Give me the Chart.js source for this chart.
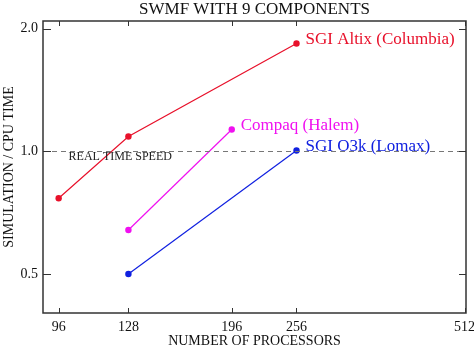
<!DOCTYPE html>
<html><head><meta charset="utf-8">
<script src="https://cdn.jsdelivr.net/npm/chart.js@4"></script>
<style>html,body{margin:0;padding:0;background:#fff}#wrap{width:474px;height:353px}</style>
</head><body><div id="wrap"><canvas id="c" width="474" height="353"></canvas></div>
<script>
const xTicks = [96, 128, 196, 256, 512];
const yTicks = [0.5, 1.0, 2.0];
const altixProcs = [96, 128, 256];
const altixValues = [0.767, 1.088, 1.84];
const compaqProcs = [128, 196];
const compaqValues = [0.641, 1.132];
const o3kProcs = [128, 256];
const o3kValues = [0.5, 1.005];
const realTime = 1.0;
const seriesNames = ['SGI Altix (Columbia)', 'Compaq (Halem)', 'SGI O3k (Lomax)'];
const seriesColors = ['#e8102a', '#f010f0', '#1020e0'];

const SERIF = '"Liberation Serif", "DejaVu Serif", serif';
const pts = (xs, ys) => xs.map((x, i) => ({x, y: ys[i]}));

const framePlugin = {
  id: 'frame',
  afterDraw(chart) {
    const {ctx, chartArea: a, scales: {x, y}} = chart;
    ctx.save();
    // dashed real-time line
    const yr = Math.round(y.getPixelForValue(realTime));
    ctx.strokeStyle = '#777'; ctx.lineWidth = 1; ctx.setLineDash([5, 4]);
    ctx.beginPath(); ctx.moveTo(a.left, yr + 0.5); ctx.lineTo(a.right, yr + 0.5); ctx.stroke();
    ctx.setLineDash([]);
    ctx.fillStyle = '#222'; ctx.font = '12px ' + SERIF; ctx.textBaseline = 'middle'; ctx.textAlign = 'left';
    ctx.fillText('REAL TIME SPEED', x.getPixelForValue(100), yr + 6);
    // frame
    ctx.strokeStyle = '#333'; ctx.lineWidth = 1.5;
    ctx.strokeRect(a.left, a.top, a.right - a.left, a.bottom - a.top);
    ctx.lineWidth = 1;
    xTicks.forEach(v => {
      const px = Math.round(x.getPixelForValue(v)) + 0.5;
      ctx.beginPath(); ctx.moveTo(px, a.bottom); ctx.lineTo(px, a.bottom - 5); ctx.stroke();
      ctx.beginPath(); ctx.moveTo(px, a.top); ctx.lineTo(px, a.top + 5); ctx.stroke();
    });
    yTicks.forEach(v => {
      const py = Math.round(y.getPixelForValue(v)) + 0.5;
      ctx.beginPath(); ctx.moveTo(a.left, py); ctx.lineTo(a.left + 8, py); ctx.stroke();
      ctx.beginPath(); ctx.moveTo(a.right, py); ctx.lineTo(a.right - 7, py); ctx.stroke();
    });
    // series labels
    ctx.font = '17px ' + SERIF; ctx.textAlign = 'left'; ctx.textBaseline = 'middle';
    const lab = [[altixProcs, altixValues], [compaqProcs, compaqValues], [o3kProcs, o3kValues]];
    lab.forEach(([xs, ys], i) => {
      const n = xs.length - 1;
      ctx.fillStyle = seriesColors[i];
      ctx.fillText(seriesNames[i], x.getPixelForValue(xs[n]) + 9, y.getPixelForValue(ys[n]) - 4);
    });
    // title
    ctx.fillStyle = '#111'; ctx.font = '17px ' + SERIF; ctx.textAlign = 'center';
    ctx.fillText('SWMF WITH 9 COMPONENTS', (a.left + a.right) / 2, 10);
    ctx.restore();
  }
};

const mk = (label, data, color) => ({
  label, data, borderColor: color, backgroundColor: color,
  borderWidth: 1.2, pointRadius: 3.2, pointHoverRadius: 3.2, pointBorderWidth: 0
});

new Chart(document.getElementById('c'), {
  type: 'line',
  data: {
    datasets: [
      mk(seriesNames[0], pts(altixProcs, altixValues), seriesColors[0]),
      mk(seriesNames[1], pts(compaqProcs, compaqValues), seriesColors[1]),
      mk(seriesNames[2], pts(o3kProcs, o3kValues), seriesColors[2])
    ]
  },
  options: {
    responsive: false, animation: false, devicePixelRatio: 1,
    layout: {padding: {top: 21, right: 8, left: 0, bottom: 0}},
    plugins: {legend: {display: false}, tooltip: {enabled: false}, title: {display: false}},
    scales: {
      x: {
        type: 'logarithmic', min: 90, max: 515,
        afterBuildTicks: s => { s.ticks = xTicks.map(v => ({value: v})); },
        afterFit: s => { s.height = 40; s.paddingLeft = 0; s.paddingRight = 0; },
        grid: {display: false, drawTicks: false},
        border: {display: false},
        ticks: {padding: 6, color: '#111', font: {family: SERIF, size: 14}, maxRotation: 0, autoSkip: false,
          callback: v => String(v)},
        title: {display: true, text: 'NUMBER OF PROCESSORS', color: '#111', font: {family: SERIF, size: 14}, padding: {top: 0, bottom: 3}}
      },
      y: {
        type: 'logarithmic', min: 0.401, max: 2.09,
        afterBuildTicks: s => { s.ticks = yTicks.map(v => ({value: v})); },
        afterFit: s => { s.width = 43; s.paddingTop = 0; s.paddingBottom = 0; },
        grid: {display: false, drawTicks: false},
        border: {display: false},
        ticks: {padding: 5, color: '#111', font: {family: SERIF, size: 14}, autoSkip: false,
          callback: v => Number(v).toFixed(1)},
        title: {display: true, text: 'SIMULATION / CPU TIME', color: '#111', font: {family: SERIF, size: 14}, padding: {top: 1, bottom: 0}}
      }
    }
  },
  plugins: [framePlugin]
});
</script></body></html>
